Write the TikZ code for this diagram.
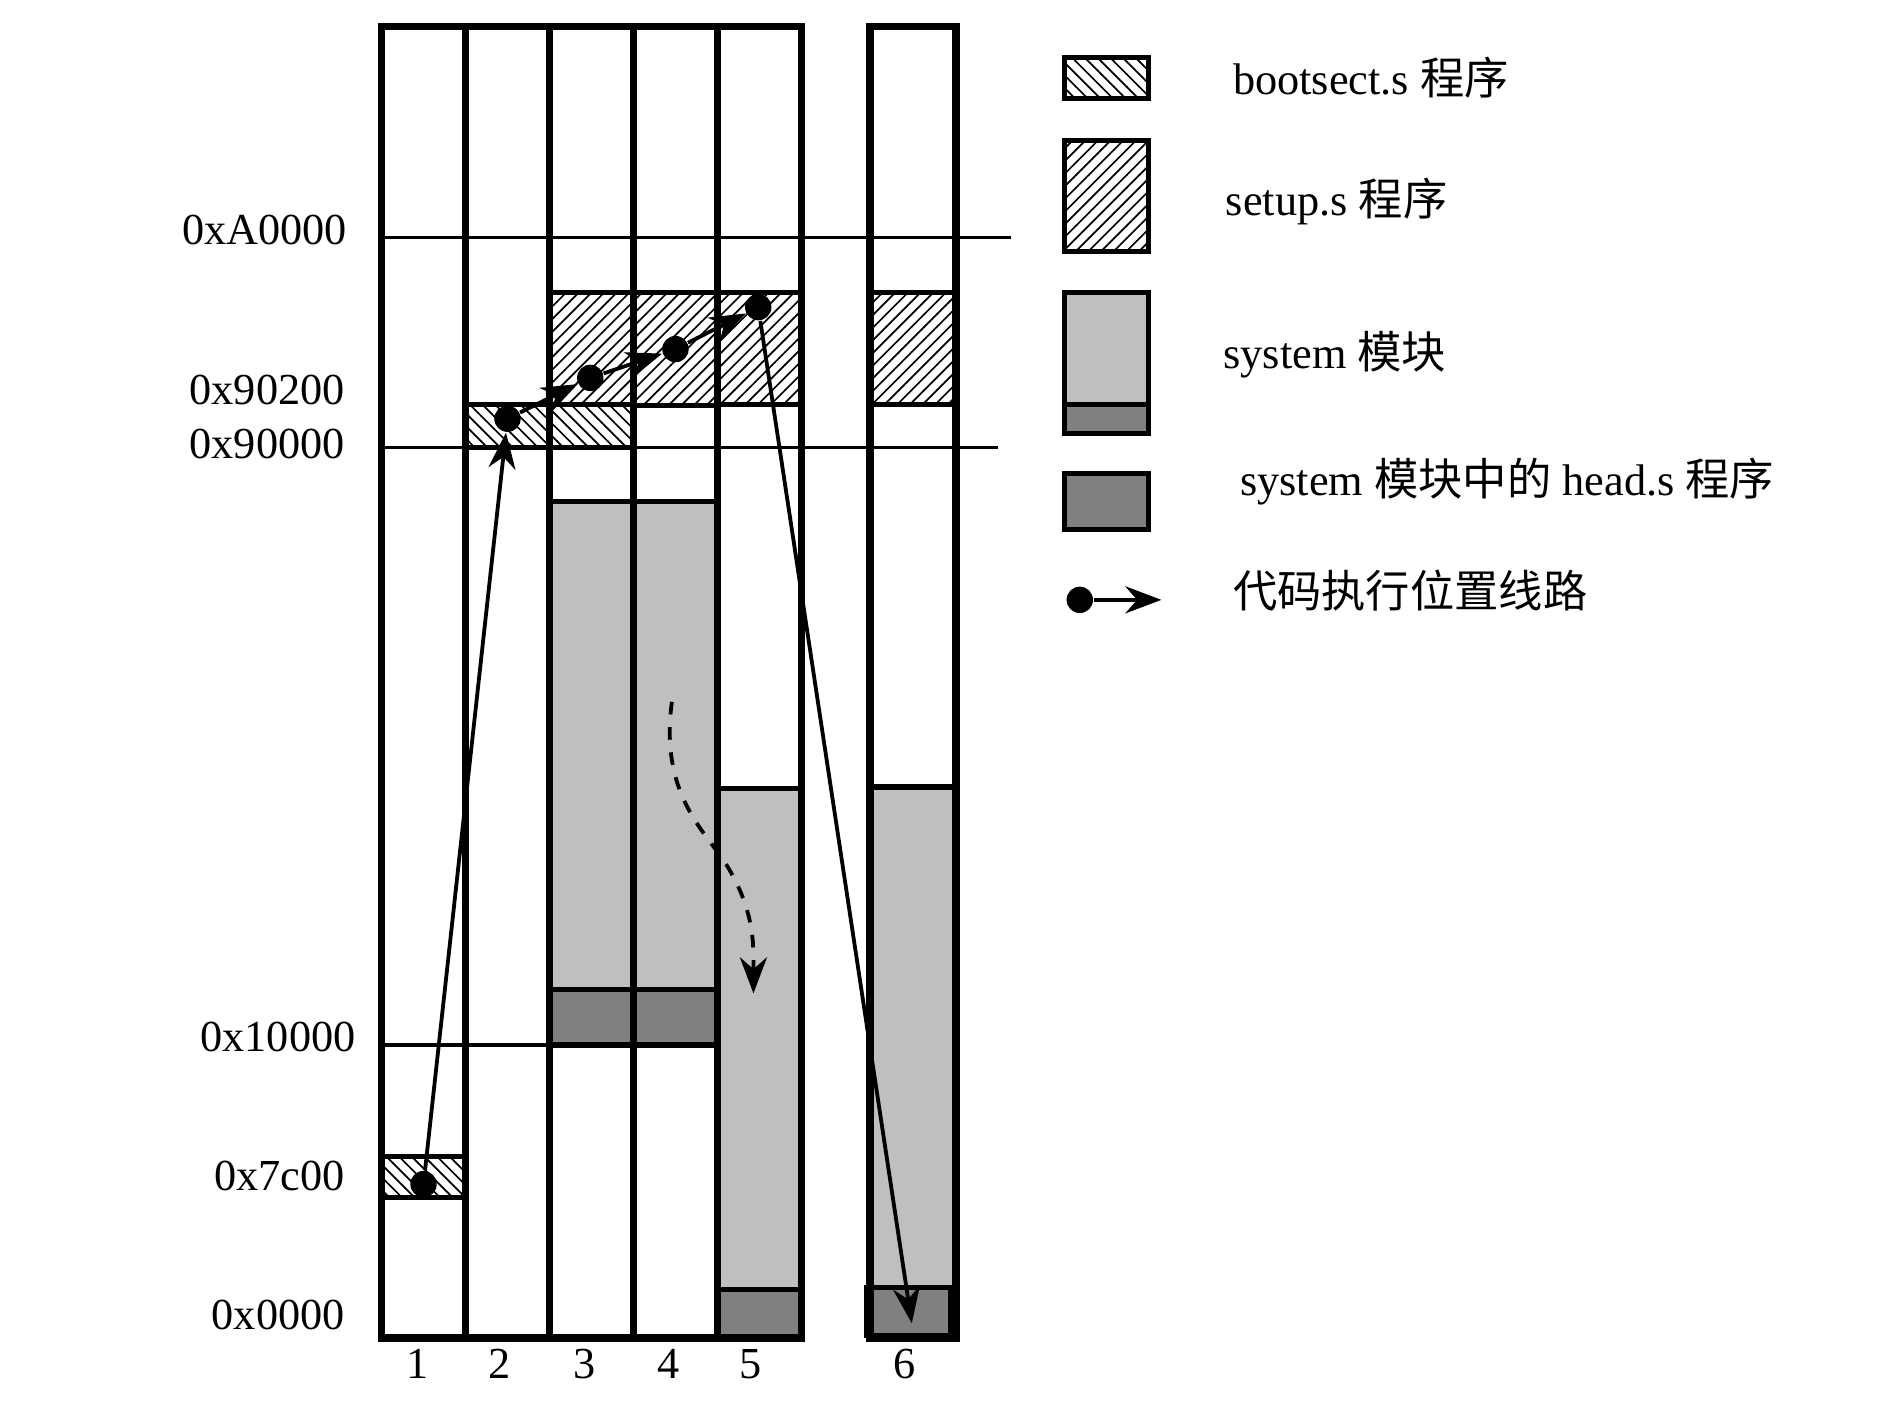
\documentclass[tikz,border=0pt]{standalone}
\usepackage{fontspec}
\setmainfont{Liberation Serif}
\newfontfamily\cjk{Noto Sans CJK SC}
\usetikzlibrary{patterns,arrows.meta}
\begin{document}
\begin{tikzpicture}[x=0.01cm,y=-0.01cm,
  boot/.style={pattern=north west lines,draw,line width=1.2pt},
  setupf/.style={pattern=north east lines,draw,line width=1.2pt},
  sysf/.style={fill=black!25,draw,line width=1.2pt},
  headf/.style={fill=black!50,draw,line width=1.2pt},
  col/.style={draw,line width=1.8pt},
  hl/.style={line width=0.9pt},
  dot/.style={circle,fill=black,inner sep=0pt,minimum size=0.22cm},
  flow/.style={-{Stealth[length=0.3cm]},line width=0.9pt},
  lab/.style={font=\fontsize{10.5}{12}\selectfont,inner sep=0pt},
  txt/.style={font=\fontsize{10.5}{12}\selectfont,anchor=west,inner sep=0pt}]
\useasboundingbox (0,0) rectangle (1567,1180);
% fills
\fill[boot] (318,964) rectangle (388,998);
\fill[boot] (388,337) rectangle (458,373);
\fill[boot] (458,337) rectangle (528,373);
\fill[setupf] (458,244) rectangle (528,337);
\fill[setupf] (528,244) rectangle (598,338);
\fill[setupf] (598,244) rectangle (668,337);
\fill[setupf] (725,244) rectangle (797,337);
\fill[sysf] (458,418) rectangle (528,825);
\fill[sysf] (528,418) rectangle (598,825);
\fill[headf] (458,825) rectangle (528,871);
\fill[headf] (528,825) rectangle (598,871);
\fill[sysf] (598,657) rectangle (668,1075);
\fill[headf] (598,1075) rectangle (668,1115);
\fill[sysf] (725,656) rectangle (797,1073);
\fill[headf] (722,1073) rectangle (792,1113);
% horizontal lines
\draw[hl] (318,198) -- (843,198);
\draw[hl] (318,373) -- (832,373);
\draw[hl] (318,871) -- (598,871);
% columns
\foreach \a/\b in {318/388,388/458,458/528,528/598,598/668,725/797}
  \draw[col] (\a,22) rectangle (\b,1115);
% labels
\node[lab,anchor=east] (la) at (290,192) {0xA0000};
\node[lab,anchor=east] (lb) at (288,325) {0x90200};
\node[lab,anchor=east] (lc) at (288,370) {0x90000};
\node[lab,anchor=east] (ld) at (297,864) {0x10000};
\node[lab,anchor=east] (le) at (288,980) {0x7c00};
\node[lab,anchor=east] (lf) at (288,1096) {0x0000};
\foreach \x/\n in {348/1,416/2,487/3,557/4,626/5,754/6}
  \node[lab] (n\n) at (\x,1137) {\n};
% flow
\node[dot] (d1) at (353,987) {};
\node[dot] (d2) at (423,349) {};
\node[dot] (d3) at (492,315) {};
\node[dot] (d4) at (563,291) {};
\node[dot] (d5) at (632,256) {};
\coordinate (e6) at (760,1103);
\draw[flow] (d1) -- (d2);
\draw[flow] (d2) -- (d3);
\draw[flow] (d3) -- (d4);
\draw[flow] (d4) -- (d5);
\draw[flow] (d5) -- (e6);
\coordinate (c1) at (560,585);
\coordinate (c2) at (628,828);
\draw[flow,dashed] (c1) .. controls (550,660) and (585,690) .. (605,720) .. controls (630,760) and (628,790) .. (c2);
% legend
\draw[boot] (887,48) rectangle (957,82);
\draw[setupf] (887,117) rectangle (957,210);
\draw[sysf] (887,244) rectangle (957,337);
\draw[headf] (887,337) rectangle (957,361);
\draw[headf] (887,395) rectangle (957,441);
\node[dot] (ld1) at (900,500) {};
\coordinate (ld2) at (968,500);
\draw[flow] (ld1) -- (ld2);
\node[txt] (t1) at (1027,65) {bootsect.s {\cjk 程序}};
\node[txt] (t2) at (1021,168) {setup.s {\cjk 程序}};
\node[txt] (t3) at (1019,296) {system {\cjk 模块}};
\node[txt] (t4) at (1033,401) {system {\cjk 模块中的} head.s {\cjk 程序}};
\node[txt] (t5) at (1027,492) {\cjk 代码执行位置线路};
\end{tikzpicture}
\end{document}
